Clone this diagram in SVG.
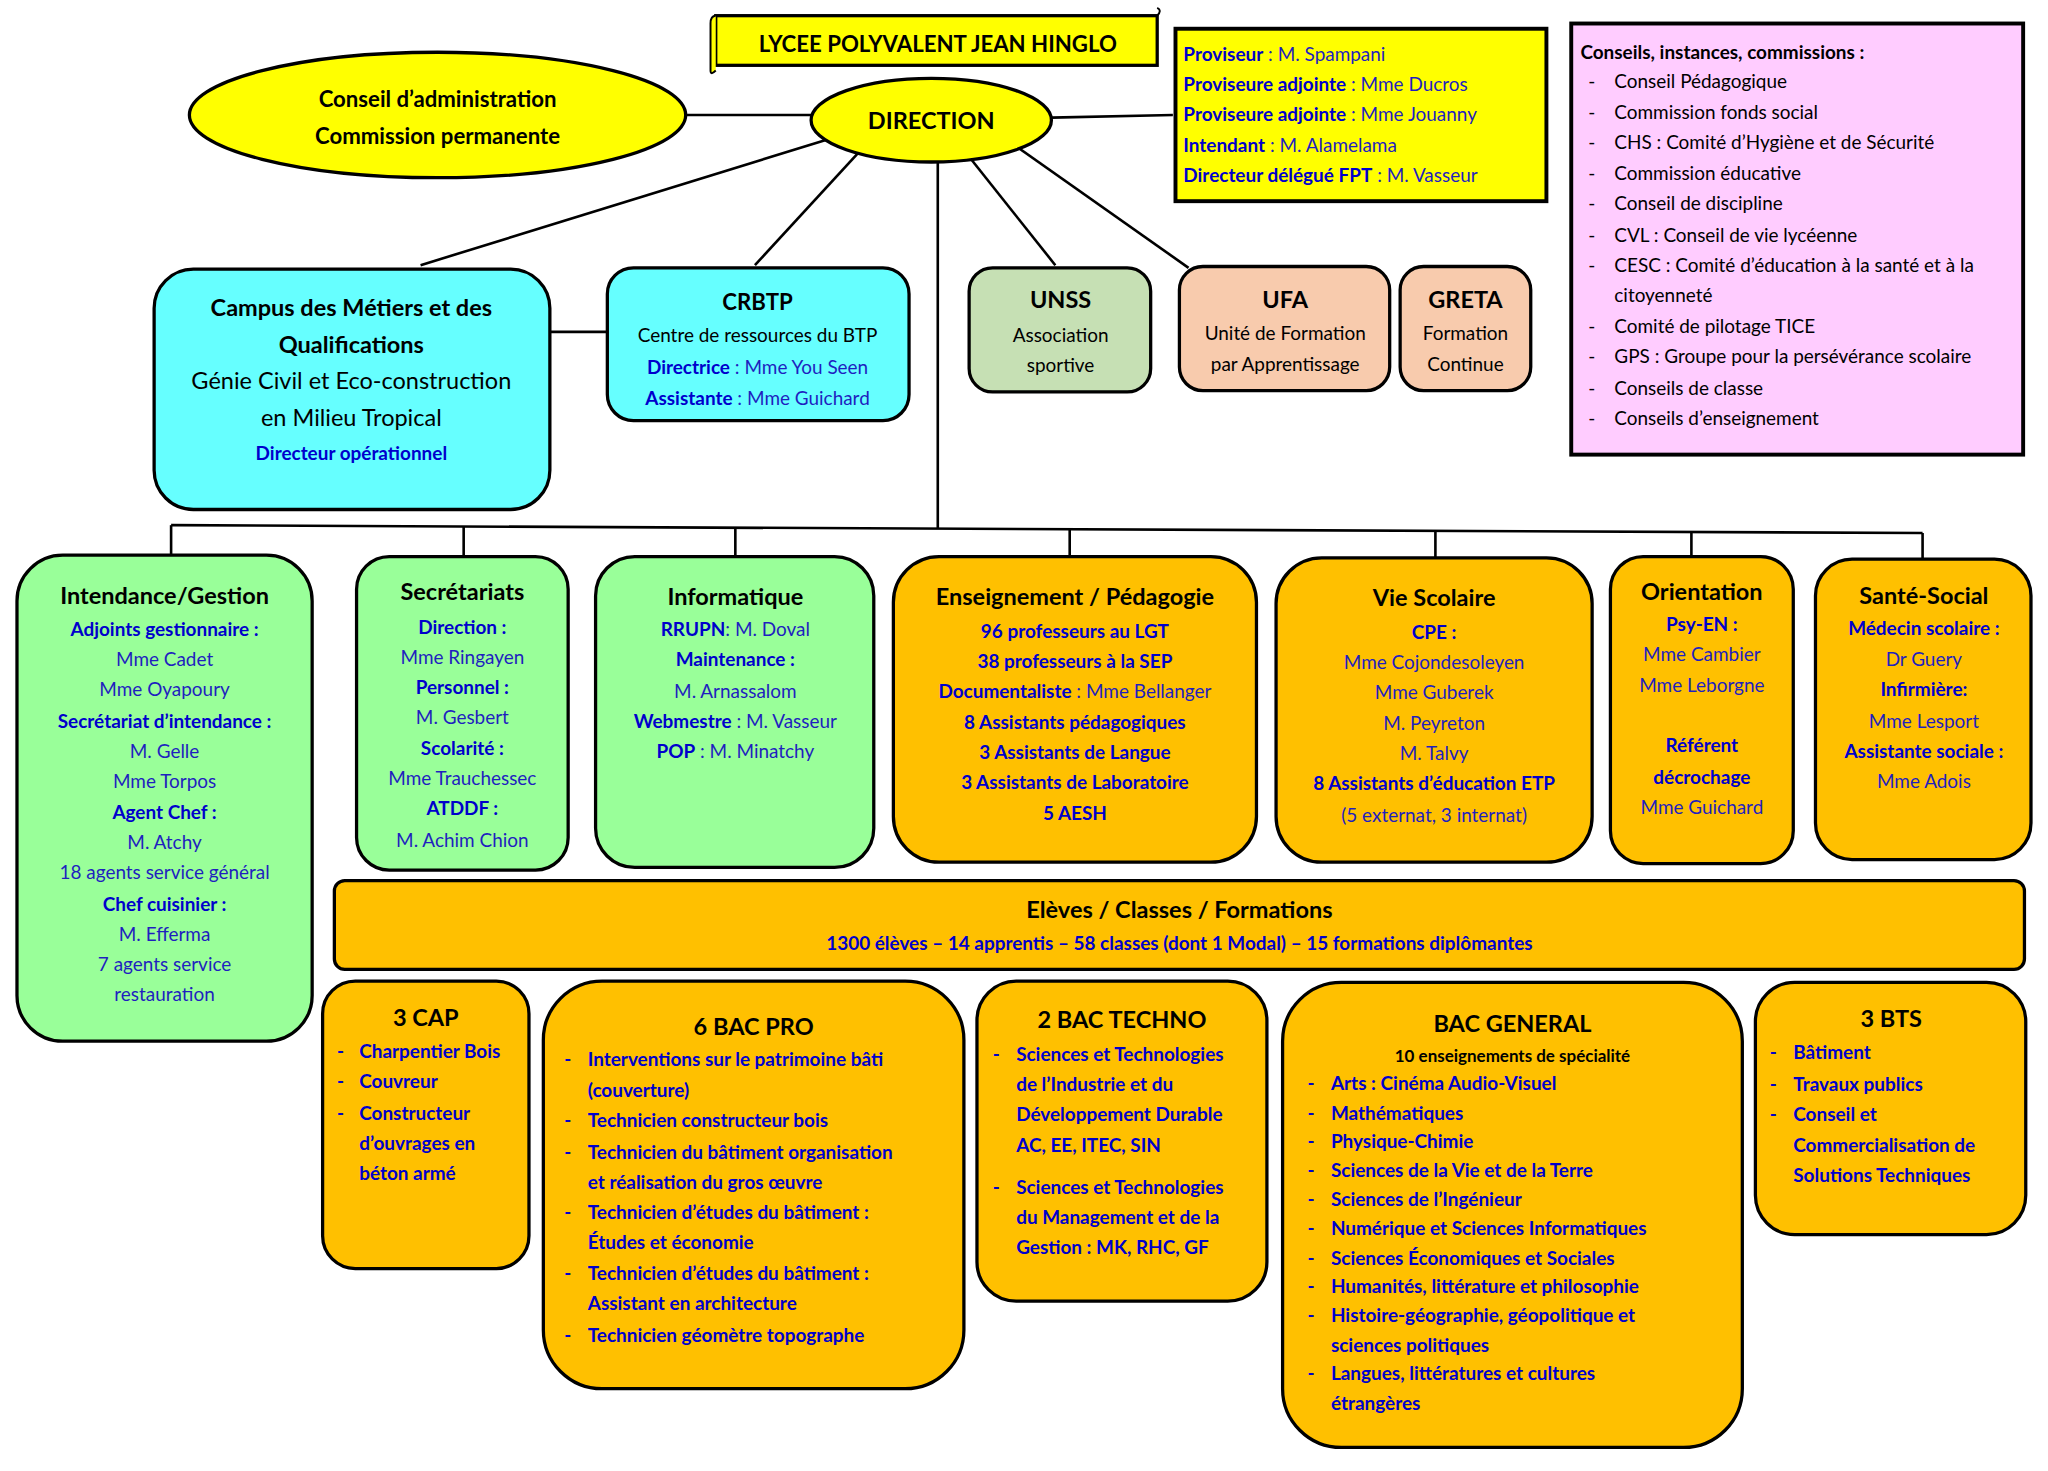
<svg xmlns="http://www.w3.org/2000/svg" width="2048" height="1471" viewBox="0 0 2048 1471">
<style>
text{font-family:Lato,"Noto Sans",sans-serif;font-size:14.5px;fill:#1f1fbf}
.c{text-anchor:middle}
.b{font-weight:bold;fill:#0000cc}
.k{fill:#000}
.t{font-weight:bold;fill:#000;font-size:18px}
.box{stroke:#000;stroke-width:2.5}
.g{fill:#99ff99}.o{fill:#ffc000}.y{fill:#ffff00}.cy{fill:#66ffff}
line{stroke:#000;stroke-width:2}
</style>
<rect width="2048" height="1471" fill="#fff"/>
<g transform="scale(1.3061,1.3064)">
<g id="connectors">
<line x1="525" y1="88" x2="622" y2="88"/>
<line x1="805" y1="90" x2="898" y2="88"/>
<line x1="636" y1="106" x2="322" y2="203"/>
<line x1="658" y1="116" x2="578" y2="203"/>
<line x1="718" y1="122" x2="718" y2="405"/>
<line x1="742" y1="120" x2="808" y2="203"/>
<line x1="778" y1="112" x2="910" y2="205"/>
<line x1="421" y1="254" x2="465" y2="254"/>
<line x1="131" y1="402" x2="1472" y2="408"/>
<line x1="131" y1="402" x2="131" y2="425"/>
<line x1="355" y1="403" x2="355" y2="426"/>
<line x1="563" y1="404" x2="563" y2="426"/>
<line x1="819" y1="405" x2="819" y2="426"/>
<line x1="1099" y1="406" x2="1099" y2="427"/>
<line x1="1295" y1="407" x2="1295" y2="426"/>
<line x1="1472" y1="408" x2="1472" y2="428"/>
</g>
<g id="title">
<rect class="box y" x="548" y="12" width="338" height="38"/>
<path d="M548 12 q-4 0 -4 6 v36 q0 4 4 0" fill="#ffff00" stroke="#000" stroke-width="1.5"/>
<path d="M886 12 q4 -4 0 -6" fill="none" stroke="#000" stroke-width="1.5"/>
<text class="c k" x="718" y="40" style="font-weight:bold;font-size:17px">LYCEE POLYVALENT JEAN HINGLO</text>
</g>
<g id="conseil">
<ellipse class="box y" cx="335" cy="88" rx="190" ry="48"/>
<text class="c k" x="335" y="82" style="font-weight:bold;font-size:17px">Conseil d’administration</text>
<text class="c k" x="335" y="110" style="font-weight:bold;font-size:17px">Commission permanente</text>
</g>
<g id="direction">
<ellipse class="box y" cx="713" cy="92" rx="92" ry="32"/>
<text class="c k" x="713" y="99" style="font-weight:bold;font-size:18px">DIRECTION</text>
</g>
<g id="proviseur">
<rect class="box y" x="900" y="22" width="284" height="132" style="stroke-width:3"/>
<text x="906" y="47"><tspan class="b">Proviseur</tspan> : M. Spampani</text>
<text x="906" y="70"><tspan class="b">Proviseure adjointe</tspan> : Mme Ducros</text>
<text x="906" y="93"><tspan class="b">Proviseure adjointe</tspan> : Mme Jouanny</text>
<text x="906" y="116"><tspan class="b">Intendant</tspan> : M. Alamelama</text>
<text x="906" y="139"><tspan class="b">Directeur délégué FPT</tspan> : M. Vasseur</text>
</g>
<g id="conseils">
<rect class="box" x="1203" y="18" width="346" height="330" fill="#ffccff" style="stroke-width:3"/>
<g class="k">
<text class="k" x="1210" y="45" style="font-weight:bold">Conseils, instances, commissions :</text>
<text class="k" x="1216" y="67">-</text><text class="k" x="1236" y="67">Conseil Pédagogique</text>
<text class="k" x="1216" y="91">-</text><text class="k" x="1236" y="91">Commission fonds social</text>
<text class="k" x="1216" y="114">-</text><text class="k" x="1236" y="114">CHS : Comité d’Hygiène et de Sécurité</text>
<text class="k" x="1216" y="138">-</text><text class="k" x="1236" y="138">Commission éducative</text>
<text class="k" x="1216" y="161">-</text><text class="k" x="1236" y="161">Conseil de discipline</text>
<text class="k" x="1216" y="185">-</text><text class="k" x="1236" y="185">CVL : Conseil de vie lycéenne</text>
<text class="k" x="1216" y="208">-</text><text class="k" x="1236" y="208">CESC : Comité d’éducation à la santé et à la</text>
<text class="k" x="1236" y="231">citoyenneté</text>
<text class="k" x="1216" y="255">-</text><text class="k" x="1236" y="255">Comité de pilotage TICE</text>
<text class="k" x="1216" y="278">-</text><text class="k" x="1236" y="278">GPS : Groupe pour la persévérance scolaire</text>
<text class="k" x="1216" y="302">-</text><text class="k" x="1236" y="302">Conseils de classe</text>
<text class="k" x="1216" y="325">-</text><text class="k" x="1236" y="325">Conseils d’enseignement</text>
</g>
</g>
<g id="campus">
<rect class="box cy" x="118" y="206" width="303" height="184" rx="30"/>
<text class="c t" x="269" y="242">Campus des Métiers et des</text>
<text class="c t" x="269" y="270">Qualifications</text>
<text class="c k" x="269" y="298" style="font-size:18px">Génie Civil et Eco-construction</text>
<text class="c k" x="269" y="326" style="font-size:18px">en Milieu Tropical</text>
<text class="c b" x="269" y="352">Directeur opérationnel</text>
</g>
<g id="crbtp">
<rect class="box cy" x="465" y="205" width="231" height="117" rx="20"/>
<text class="c t" x="580" y="237" style="font-size:17px">CRBTP</text>
<text class="c k" x="580" y="262">Centre de ressources du BTP</text>
<text class="c" x="580" y="286"><tspan class="b">Directrice</tspan> : Mme You Seen</text>
<text class="c" x="580" y="310"><tspan class="b">Assistante</tspan> : Mme Guichard</text>
</g>
<g id="unss">
<rect class="box" x="742" y="205" width="139" height="95" rx="18" fill="#c6e0b4"/>
<text class="c t" x="812" y="236">UNSS</text>
<text class="c k" x="812" y="262">Association</text>
<text class="c k" x="812" y="285">sportive</text>
</g>
<g id="ufa">
<rect class="box" x="903" y="204" width="161" height="95" rx="18" fill="#f8cbad"/>
<text class="c t" x="984" y="236">UFA</text>
<text class="c k" x="984" y="260">Unité de Formation</text>
<text class="c k" x="984" y="284">par Apprentissage</text>
</g>
<g id="greta">
<rect class="box" x="1072" y="204" width="100" height="95" rx="18" fill="#f8cbad"/>
<text class="c t" x="1122" y="236">GRETA</text>
<text class="c k" x="1122" y="260">Formation</text>
<text class="c k" x="1122" y="284">Continue</text>
</g>
<g id="intendance">
<rect class="box g" x="13" y="425" width="226" height="372" rx="35"/>
<text class="c t" x="126" y="462">Intendance/Gestion</text>
<text class="c b" x="126" y="487">Adjoints gestionnaire :</text>
<text class="c" x="126" y="510">Mme Cadet</text>
<text class="c" x="126" y="533">Mme Oyapoury</text>
<text class="c b" x="126" y="557">Secrétariat d’intendance :</text>
<text class="c" x="126" y="580">M. Gelle</text>
<text class="c" x="126" y="603">Mme Torpos</text>
<text class="c b" x="126" y="627">Agent Chef :</text>
<text class="c" x="126" y="650">M. Atchy</text>
<text class="c" x="126" y="673">18 agents service général</text>
<text class="c b" x="126" y="697">Chef cuisinier :</text>
<text class="c" x="126" y="720">M. Efferma</text>
<text class="c" x="126" y="743">7 agents service</text>
<text class="c" x="126" y="766">restauration</text>
</g>
<g id="secretariats">
<rect class="box g" x="273" y="426" width="162" height="240" rx="25"/>
<text class="c t" x="354" y="459">Secrétariats</text>
<text class="c b" x="354" y="485">Direction :</text>
<text class="c" x="354" y="508">Mme Ringayen</text>
<text class="c b" x="354" y="531">Personnel :</text>
<text class="c" x="354" y="554">M. Gesbert</text>
<text class="c b" x="354" y="578">Scolarité :</text>
<text class="c" x="354" y="601">Mme Trauchessec</text>
<text class="c b" x="354" y="624">ATDDF :</text>
<text class="c" x="354" y="648">M. Achim Chion</text>
</g>
<g id="informatique">
<rect class="box g" x="456" y="426" width="213" height="238" rx="30"/>
<text class="c t" x="563" y="463">Informatique</text>
<text class="c" x="563" y="487"><tspan class="b">RRUPN</tspan>: M. Doval</text>
<text class="c b" x="563" y="510">Maintenance :</text>
<text class="c" x="563" y="534">M. Arnassalom</text>
<text class="c" x="563" y="557"><tspan class="b">Webmestre</tspan> : M. Vasseur</text>
<text class="c" x="563" y="580"><tspan class="b">POP</tspan> : M. Minatchy</text>
</g>
<g id="enseignement">
<rect class="box o" x="684" y="426" width="278" height="234" rx="35"/>
<text class="c t" x="823" y="463">Enseignement / Pédagogie</text>
<text class="c b" x="823" y="488">96 professeurs au LGT</text>
<text class="c b" x="823" y="511">38 professeurs à la SEP</text>
<text class="c" x="823" y="534"><tspan class="b">Documentaliste</tspan> : Mme Bellanger</text>
<text class="c b" x="823" y="558">8 Assistants pédagogiques</text>
<text class="c b" x="823" y="581">3 Assistants de Langue</text>
<text class="c b" x="823" y="604">3 Assistants de Laboratoire</text>
<text class="c b" x="823" y="628">5 AESH</text>
</g>
<g id="viescolaire">
<rect class="box o" x="977" y="427" width="242" height="233" rx="35"/>
<text class="c t" x="1098" y="464">Vie Scolaire</text>
<text class="c b" x="1098" y="489">CPE :</text>
<text class="c" x="1098" y="512">Mme Cojondesoleyen</text>
<text class="c" x="1098" y="535">Mme Guberek</text>
<text class="c" x="1098" y="559">M. Peyreton</text>
<text class="c" x="1098" y="582">M. Talvy</text>
<text class="c b" x="1098" y="605">8 Assistants d’éducation ETP</text>
<text class="c" x="1098" y="629">(5 externat, 3 internat)</text>
</g>
<g id="orientation">
<rect class="box o" x="1233" y="426" width="140" height="235" rx="25"/>
<text class="c t" x="1303" y="459">Orientation</text>
<text class="c b" x="1303" y="483">Psy-EN :</text>
<text class="c" x="1303" y="506">Mme Cambier</text>
<text class="c" x="1303" y="530">Mme Leborgne</text>
<text class="c b" x="1303" y="576">Référent</text>
<text class="c b" x="1303" y="600">décrochage</text>
<text class="c" x="1303" y="623">Mme Guichard</text>
</g>
<g id="sante">
<rect class="box o" x="1390" y="428" width="165" height="230" rx="28"/>
<text class="c t" x="1473" y="462">Santé-Social</text>
<text class="c b" x="1473" y="486">Médecin scolaire :</text>
<text class="c" x="1473" y="510">Dr Guery</text>
<text class="c b" x="1473" y="533">Infirmière:</text>
<text class="c" x="1473" y="557">Mme Lesport</text>
<text class="c b" x="1473" y="580">Assistante sociale :</text>
<text class="c" x="1473" y="603">Mme Adois</text>
</g>
<g id="eleves">
<rect class="box o" x="256" y="674" width="1294" height="68" rx="8"/>
<text class="c t" x="903" y="703">Elèves / Classes / Formations</text>
<text class="c b" x="903" y="727">1300 élèves – 14 apprentis – 58 classes (dont 1 Modal) – 15 formations diplômantes</text>
</g>
<g id="cap">
<rect class="box o" x="247" y="751" width="158" height="220" rx="25"/>
<text class="c t" x="326" y="785">3 CAP</text>
<g class="b">
<text class="b" x="258" y="810">-</text><text class="b" x="275" y="810">Charpentier Bois</text>
<text class="b" x="258" y="833">-</text><text class="b" x="275" y="833">Couvreur</text>
<text class="b" x="258" y="857">-</text><text class="b" x="275" y="857">Constructeur</text>
<text class="b" x="275" y="880">d’ouvrages en</text>
<text class="b" x="275" y="903">béton armé</text>
</g>
</g>
<g id="bacpro">
<rect class="box o" x="416" y="751" width="322" height="312" rx="45"/>
<text class="c t" x="577" y="792">6 BAC PRO</text>
<text class="b" x="432" y="816">-</text><text class="b" x="450" y="816">Interventions sur le patrimoine bâti</text>
<text class="b" x="450" y="840">(couverture)</text>
<text class="b" x="432" y="863">-</text><text class="b" x="450" y="863">Technicien constructeur bois</text>
<text class="b" x="432" y="887">-</text><text class="b" x="450" y="887">Technicien du bâtiment organisation</text>
<text class="b" x="450" y="910">et réalisation du gros œuvre</text>
<text class="b" x="432" y="933">-</text><text class="b" x="450" y="933">Technicien d’études du bâtiment :</text>
<text class="b" x="450" y="956">Études et économie</text>
<text class="b" x="432" y="980">-</text><text class="b" x="450" y="980">Technicien d’études du bâtiment :</text>
<text class="b" x="450" y="1003">Assistant en architecture</text>
<text class="b" x="432" y="1027">-</text><text class="b" x="450" y="1027">Technicien géomètre topographe</text>
</g>
<g id="bactechno">
<rect class="box o" x="748" y="751" width="222" height="245" rx="30"/>
<text class="c t" x="859" y="787">2 BAC TECHNO</text>
<text class="b" x="760" y="812">-</text><text class="b" x="778" y="812">Sciences et Technologies</text>
<text class="b" x="778" y="835">de l’Industrie et du</text>
<text class="b" x="778" y="858">Développement Durable</text>
<text class="b" x="778" y="882">AC, EE, ITEC, SIN</text>
<text class="b" x="760" y="914">-</text><text class="b" x="778" y="914">Sciences et Technologies</text>
<text class="b" x="778" y="937">du Management et de la</text>
<text class="b" x="778" y="960">Gestion : MK, RHC, GF</text>
</g>
<g id="bacgeneral">
<rect class="box o" x="982" y="752" width="352" height="356" rx="45"/>
<text class="c t" x="1158" y="790">BAC GENERAL</text>
<text class="c k" x="1158" y="813" style="font-weight:bold;font-size:13px">10 enseignements de spécialité</text>
<text class="b" x="1001" y="834">-</text><text class="b" x="1019" y="834">Arts : Cinéma Audio-Visuel</text>
<text class="b" x="1001" y="857">-</text><text class="b" x="1019" y="857">Mathématiques</text>
<text class="b" x="1001" y="879">-</text><text class="b" x="1019" y="879">Physique-Chimie</text>
<text class="b" x="1001" y="901">-</text><text class="b" x="1019" y="901">Sciences de la Vie et de la Terre</text>
<text class="b" x="1001" y="923">-</text><text class="b" x="1019" y="923">Sciences de l’Ingénieur</text>
<text class="b" x="1001" y="945">-</text><text class="b" x="1019" y="945">Numérique et Sciences Informatiques</text>
<text class="b" x="1001" y="968">-</text><text class="b" x="1019" y="968">Sciences Économiques et Sociales</text>
<text class="b" x="1001" y="990">-</text><text class="b" x="1019" y="990">Humanités, littérature et philosophie</text>
<text class="b" x="1001" y="1012">-</text><text class="b" x="1019" y="1012">Histoire-géographie, géopolitique et</text>
<text class="b" x="1019" y="1035">sciences politiques</text>
<text class="b" x="1001" y="1056">-</text><text class="b" x="1019" y="1056">Langues, littératures et cultures</text>
<text class="b" x="1019" y="1079">étrangères</text>
</g>
<g id="bts">
<rect class="box o" x="1344" y="752" width="207" height="193" rx="30"/>
<text class="c t" x="1448" y="786">3 BTS</text>
<text class="b" x="1355" y="811">-</text><text class="b" x="1373" y="811">Bâtiment</text>
<text class="b" x="1355" y="835">-</text><text class="b" x="1373" y="835">Travaux publics</text>
<text class="b" x="1355" y="858">-</text><text class="b" x="1373" y="858">Conseil et</text>
<text class="b" x="1373" y="882">Commercialisation de</text>
<text class="b" x="1373" y="905">Solutions Techniques</text>
</g>
</g>
</svg>
